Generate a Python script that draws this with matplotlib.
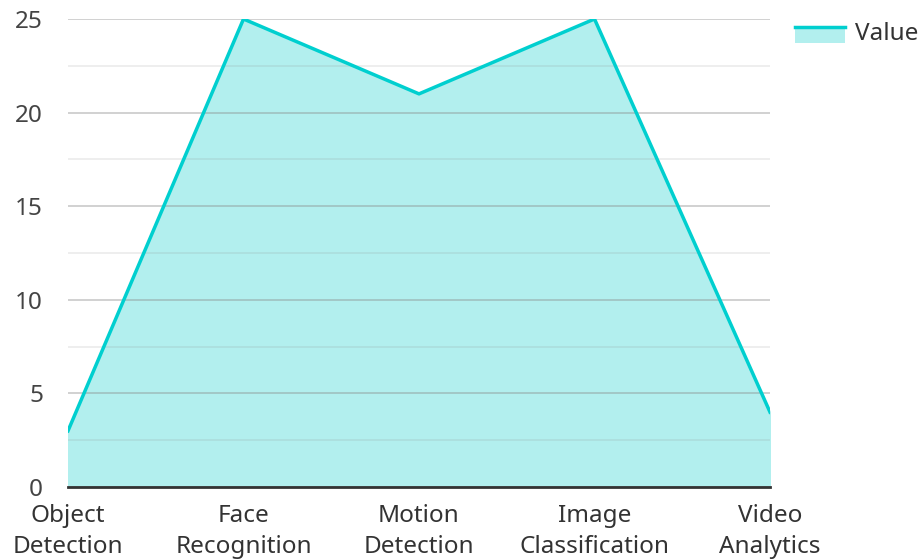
import matplotlib.pyplot as plt
from matplotlib.legend_handler import HandlerBase
from matplotlib.patches import Rectangle
from matplotlib.lines import Line2D

plt.rcParams['font.family'] = ['Noto Sans', 'DejaVu Sans']

categories = ['Object\nDetection', 'Face\nRecognition', 'Motion\nDetection', 'Image\nClassification', 'Video\nAnalytics']
values = [3, 25, 21, 25, 4]
yticks = [0, 5, 10, 15, 20, 25]

line_color = '#00cfcf'
fill_color = '#b2efee'


# legend handle: filled box with the line on its top edge
class AreaHandler(HandlerBase):
    def create_artists(self, legend, orig_handle, xdescent, ydescent, width, height, fontsize, trans):
        r = Rectangle((-xdescent, -ydescent - 2), width, height * 0.85 + 2, facecolor=fill_color, edgecolor='none', transform=trans)
        l = Line2D([-xdescent, -xdescent + width], [-ydescent + height * 0.75] * 2, color=line_color, lw=2.5, transform=trans)
        return [r, l]


fig = plt.figure(figsize=(9.2, 5.6), dpi=100)
ax = fig.add_axes([68 / 920, 1 - 487 / 560, 702 / 920, 468 / 560])

x = list(range(len(categories)))
ax.fill_between(x, values, 0, color=fill_color, zorder=1)
line, = ax.plot(x, values, color=line_color, lw=2.5, zorder=3, label='Value')

ax.set_xlim(0, len(categories) - 1)
ax.set_ylim(0, 25)
ax.set_yticks(yticks)
ax.set_yticks([2.5, 7.5, 12.5, 17.5, 22.5], minor=True)
ax.grid(axis='y', which='major', color='#888888', alpha=0.45, lw=1.2, zorder=2)
ax.grid(axis='y', which='minor', color='#888888', alpha=0.17, lw=1.2, zorder=2)
ax.set_axisbelow(False)

ax.set_xticks(x)
ax.set_xticklabels(categories, fontsize=17.5, color='#333333', linespacing=1.38)
ax.tick_params(axis='y', which='both', length=0, labelsize=17.5, labelcolor='#444444', pad=18)
ax.tick_params(axis='x', length=0, pad=12)

for s in ['top', 'right', 'left']:
    ax.spines[s].set_visible(False)
ax.spines['bottom'].set_color('#333333')
ax.spines['bottom'].set_linewidth(2)
ax.spines['bottom'].set_zorder(4)

fig.legend(handles=[line], labels=['Value'], handler_map={Line2D: AreaHandler()},
           loc='upper left', bbox_to_anchor=(795 / 920, 1 - 22 / 560), frameon=False,
           borderpad=0, borderaxespad=0,
           fontsize=17.5, handlelength=2.05, handletextpad=0.4, labelcolor='#333333')

fig.savefig('out.png', dpi=100)
